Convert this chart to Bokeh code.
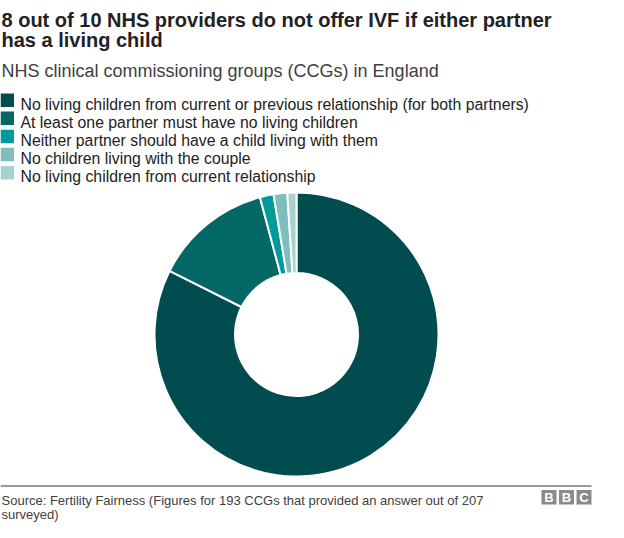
import numpy as np
from bokeh.plotting import figure
from bokeh.models import ColumnDataSource, Range1d
from bokeh.core.properties import value
from bokeh.embed import file_html
from bokeh.resources import INLINE

# ---- data ----
title_lines = ["8 out of 10 NHS providers do not offer IVF if either partner",
               "has a living child"]
subtitle = "NHS clinical commissioning groups (CCGs) in England"
categories = [
    "No living children from current or previous relationship (for both partners)",
    "At least one partner must have no living children",
    "Neither partner should have a child living with them",
    "No children living with the couple",
    "No living children from current relationship",
]
counts = [159, 26, 3, 3, 2]
colors = ["#004c4f", "#036766", "#009a9a", "#80bdbd", "#a6d2d2"]
source_lines = ["Source: Fertility Fairness (Figures for 193 CCGs that provided an answer out of 207",
                "surveyed)"]
logo_letters = ["B", "B", "C"]

W, H = 608, 522
FONT = "Liberation Sans"

p = figure(width=W, height=H, output_backend="svg", toolbar_location=None,
           x_range=Range1d(0, W), y_range=Range1d(0, H),
           x_axis_location=None, y_axis_location=None, min_border=0)
p.grid.visible = False
p.outline_line_color = None
p.background_fill_color = "white"
p.border_fill_color = "white"

def fy(top_y):
    # convert a top-down pixel position into the figure's y
    return H - np.asarray(top_y, dtype=float)

# title
p.text(x=[1, 1], y=fy([19, 39]), text=title_lines, text_font=value(FONT),
       text_font_size="20px", text_font_style="bold", text_color="#222222",
       text_baseline="alphabetic")
p.text(x=[1], y=fy([70]), text=[subtitle], text_font=value(FONT),
       text_font_size="18px", text_color="#404040", text_baseline="alphabetic")

# legend
n = len(categories)
idx = np.arange(n)
top = fy(93 + 18.1 * idx)
leg = ColumnDataSource(dict(left=np.zeros(n), right=np.full(n, 13.5), top=top,
                            bottom=top - 13.5, color=colors,
                            tx=np.full(n, 20.0), ty=fy(104 + 18.1 * idx),
                            label=categories))
p.quad(left="left", right="right", top="top", bottom="bottom", color="color",
       line_color=None, source=leg)
p.text(x="tx", y="ty", text="label", source=leg, text_font=value(FONT),
       text_font_size="15.8px", text_color="#222222", text_baseline="alphabetic")

# donut
frac = np.array(counts) / np.sum(counts)
cum = np.concatenate([[0], np.cumsum(frac)])
start = np.pi / 2 - cum[:-1] * 2 * np.pi
end = np.pi / 2 - cum[1:] * 2 * np.pi
don = ColumnDataSource(dict(start=start, end=end, color=colors))
cx, cy = 296, fy(334)
p.annular_wedge(x=cx, y=cy, inner_radius=61.5, outer_radius=142,
                inner_radius_units="screen", outer_radius_units="screen",
                start_angle="start", end_angle="end", direction="clock",
                fill_color="color", line_color="white", line_width=2, source=don)

# footer
p.line(x=[0, 591], y=[fy(485.5), fy(485.5)], line_color="#333333", line_width=1)
p.text(x=[1, 1], y=fy([500, 514]), text=source_lines, text_font=value(FONT),
       text_font_size="13px", text_color="#404040", text_baseline="alphabetic")
bx = np.array([541, 558.5, 576])
p.quad(left=bx, right=bx + 15, top=fy(489.5), bottom=fy(504), color="#8a8a8a", line_color=None)
p.text(x=bx + 7.5, y=fy([497] * 3), text=logo_letters, text_font=value(FONT),
       text_font_size="13px", text_font_style="bold", text_color="white",
       text_align="center", text_baseline="middle")

open("out.html", "w").write(file_html(p, INLINE))
